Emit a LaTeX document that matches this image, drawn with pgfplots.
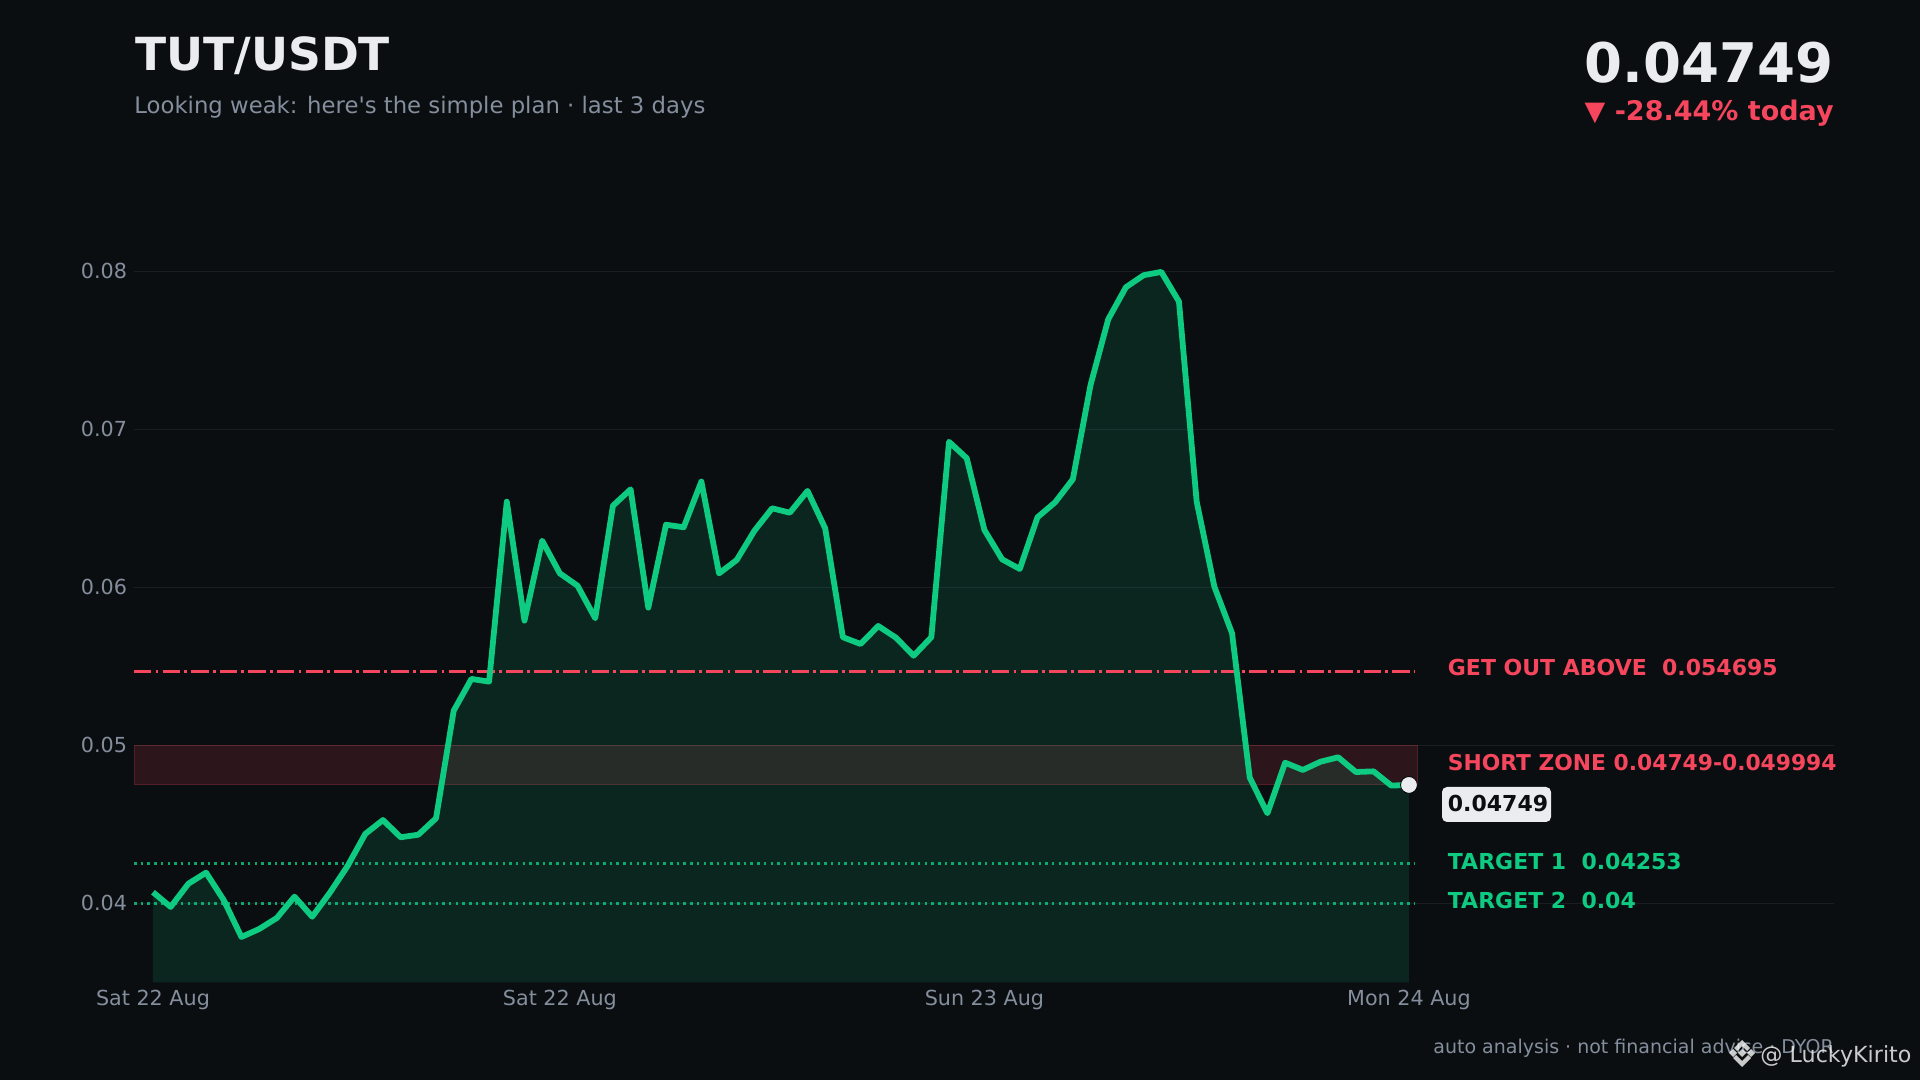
\documentclass[border=0pt]{standalone}
\usepackage{fontspec}
\setmainfont{DejaVu Sans}
\newfontfamily\plain{DejaVu Sans}
\usepackage{pgfplots}
\usepackage{pgfplotstable}
\pgfplotsset{compat=1.18}
\definecolor{bgc}{HTML}{0B0E11}
\definecolor{upg}{HTML}{0ECB81}
\definecolor{dnr}{HTML}{F6465D}
\definecolor{txt}{HTML}{EAECEF}
\definecolor{gry}{HTML}{848E9C}
\definecolor{grd}{HTML}{1A1E24}
\pgfplotstableread{
i v
0 0.0407
1 0.03977
2 0.04124
3 0.04194
4 0.0402
5 0.03787
6 0.03837
7 0.03907
8 0.04042
9 0.03915
10 0.04067
11 0.04236
12 0.04439
13 0.04527
14 0.04418
15 0.04434
16 0.04538
17 0.05219
18 0.0542
19 0.05403
20 0.06542
21 0.05789
22 0.06295
23 0.06088
24 0.0601
25 0.05804
26 0.06516
27 0.0662
28 0.05871
29 0.06396
30 0.0638
31 0.06669
32 0.06088
33 0.06173
34 0.06358
35 0.065
36 0.06472
37 0.0661
38 0.06373
39 0.05684
40 0.05641
41 0.05755
42 0.05681
43 0.05567
44 0.05684
45 0.06921
46 0.06817
47 0.06363
48 0.06177
49 0.06116
50 0.06443
51 0.06538
52 0.06684
53 0.0728
54 0.07696
55 0.07899
56 0.07975
57 0.07996
58 0.07808
59 0.06542
60 0.06004
61 0.05709
62 0.04795
63 0.0457
64 0.0489
65 0.04844
66 0.04896
67 0.04924
68 0.04831
69 0.04835
70 0.04745
71 0.04749
}\series
\newcommand{\fs}[1]{\fontsize{#1}{#1}\selectfont}
\begin{document}
\begin{tikzpicture}[x=0.5pt,y=0.5pt]
\path[use as bounding box,fill=bgc] (0,0) rectangle (1920,1080);
\begin{axis}[
  at={(67pt,48.85pt)},anchor=south west,
  scale only axis,width=850pt,height=367.35pt,
  xmin=-1.074,xmax=95.03,ymin=0.035,ymax=0.0815,
  axis line style={draw=none},
  major tick length=0pt,
  scaled y ticks=false,
  ytick={0.04,0.05,0.06,0.07,0.08},
  yticklabels={0.04,0.05,0.06,0.07,0.08},
  xtick={0,23,47,71},
  xticklabels={Sat 22 Aug,Sat 22 Aug,Sun 23 Aug,Mon 24 Aug},
  ticklabel style={font=\fs{10.35},text=gry},
  xticklabel style={yshift=-0.5pt},
  ymajorgrids,
  grid style={grd,line width=0.7pt},
]
\addplot[fill=dnr,fill opacity=0.14,draw=dnr,draw opacity=0.2,line width=0.5pt] coordinates {(-1.074,0.04749)(71.5,0.04749)(71.5,0.049994)(-1.074,0.049994)} -- cycle;
\addplot[fill=upg,fill opacity=0.13,draw=none] table[x=i,y=v]{\series} \closedcycle;
\addplot[dnr,line width=1.5pt,dash pattern=on 8.65pt off 2.15pt on 1.35pt off 2.15pt] coordinates {(-1.074,0.054695)(71.35,0.054695)};
\addplot[upg,opacity=0.8,line width=1.25pt,dash pattern=on 1.25pt off 2.1pt] coordinates {(-1.074,0.04253)(71.35,0.04253)};
\addplot[upg,opacity=0.8,line width=1.25pt,dash pattern=on 1.25pt off 2.1pt] coordinates {(-1.074,0.04)(71.35,0.04)};
\addplot[upg,line width=2.9pt,line join=round] table[x=i,y=v]{\series};
\addplot[only marks,mark=*,mark size=4.2pt,mark options={fill=txt,draw=none}] coordinates {(71,0.04749)};
\end{axis}
% header
\node[anchor=base west,inner sep=0pt,text=txt] at (135,1009) {\fs{22.8}\bfseries TUT/USDT};
\node[anchor=base west,inner sep=0pt,text=gry] at (134,966) {\plain\fs{11.38}Looking weak: here's the simple plan · last 3 days};
\node[anchor=base east,inner sep=0pt,text=txt] at (1834,997) {\fs{27.3}\bfseries 0.04749};
\node[anchor=base east,inner sep=0pt,text=dnr] at (1834,959.5) {\fs{13.5}\bfseries ▼ -28.44\% today};
% annotations
\node[anchor=base west,inner sep=0pt,text=dnr] at (1447.5,404) {\fs{11}\bfseries GET OUT ABOVE\ \ 0.054695};
\node[anchor=base west,inner sep=0pt,text=dnr] at (1447.5,309.5) {\fs{10.9}\bfseries SHORT ZONE 0.04749-0.049994};
\node[anchor=base west,inner sep=0pt,text=upg] at (1447.5,210.5) {\fs{11}\bfseries TARGET 1\ \ 0.04253};
\node[anchor=base west,inner sep=0pt,text=upg] at (1447.5,171.5) {\fs{11}\bfseries TARGET 2\ \ 0.04};
\fill[txt,rounded corners=2.5pt] (1442,258) rectangle (1551,293);
\node[anchor=base west,inner sep=0pt,text=bgc] at (1447.5,268.5) {\fs{11}\bfseries 0.04749};
% footer
\node[anchor=base east,inner sep=0pt,text=gry] at (1834,26) {\fs{9.5}auto analysis · not financial advice · DYOR};
% watermark
\begin{scope}[shift={(1742,26)},fill=white,fill opacity=0.78]
\fill (0,5) -- (4,1) -- (0,-3) -- (-4,1) -- cycle;
\fill (-9,5) -- (-5,1) -- (-9,-3) -- (-13,1) -- cycle;
\fill (9,5) -- (13,1) -- (9,-3) -- (5,1) -- cycle;
\fill (0,14) -- (8,6) -- (5,3) -- (0,8) -- (-5,3) -- (-8,6) -- cycle;
\fill (0,-13) -- (9,-4) -- (6,-1) -- (0,-7) -- (-6,-1) -- (-9,-4) -- cycle;
\end{scope}
\node[anchor=base west,inner sep=0pt,text=white,opacity=0.78] at (1760,17) {\fs{11.1}@ LuckyKirito};
\end{tikzpicture}
\end{document}
